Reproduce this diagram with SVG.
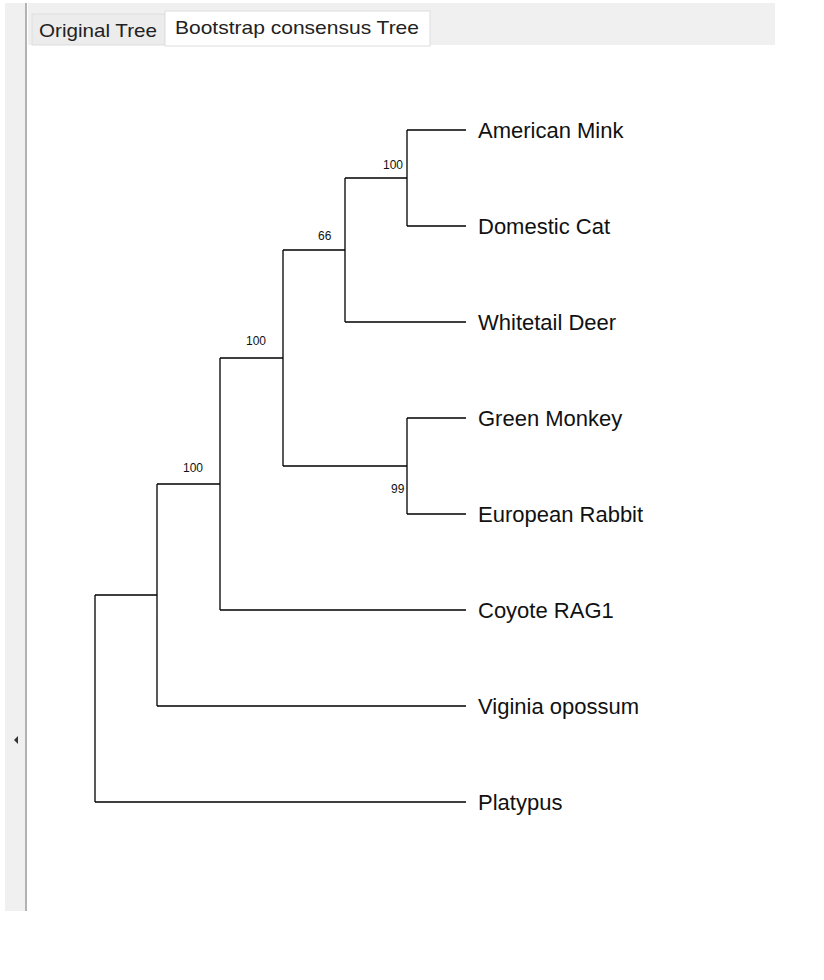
<svg xmlns="http://www.w3.org/2000/svg" width="824" height="980" viewBox="0 0 824 980">
<style>
.e{stroke:#000;stroke-width:1.3;fill:none}
.l{font-family:"Liberation Sans",Arial,sans-serif;font-size:22px;fill:#111}
.b{font-family:"Liberation Sans",Arial,sans-serif;font-size:12px;fill:#111}
.t{font-family:"Liberation Sans",Arial,sans-serif;font-size:19px;fill:#222}
</style>
<rect width="824" height="980" fill="#fff"/>
<rect x="5" y="3" width="20" height="908" fill="#f0f0f0"/>
<line x1="26" y1="3" x2="26" y2="911" stroke="#999" stroke-width="1.5"/>
<path d="M14 740 L18 736 L18 744 Z" fill="#333"/>
<rect x="28" y="3" width="747" height="42" fill="#f0f0f0"/>
<rect x="32" y="14" width="133" height="31" fill="#ececec" stroke="#ddd"/>
<rect x="165" y="11" width="265" height="35" fill="#fff" stroke="#ddd"/>
<text class="t" x="39" y="37" textLength="118" lengthAdjust="spacingAndGlyphs">Original Tree</text>
<text class="t" x="175" y="34" textLength="244" lengthAdjust="spacingAndGlyphs">Bootstrap consensus Tree</text>
<g id="connectors">
<path class="e" d="M407 130H466M407 226H466M407 130V226M345 178H407M345 322H466M345 178V322M407 418H466M407 514H466M407 418V514M283 250H345M283 466H407M283 250V466M220 358H283M220 610H466M220 358V610M157 484H220M157 706H466M157 484V706M95 595H157M95 802H466M95 595V802"/>
</g>
<g id="n-mink"><text class="l" x="478" y="138">American Mink</text></g>
<g id="n-cat"><text class="l" x="478" y="234">Domestic Cat</text></g>
<g id="n-deer"><text class="l" x="478" y="330">Whitetail Deer</text></g>
<g id="n-monkey"><text class="l" x="478" y="426">Green Monkey</text></g>
<g id="n-rabbit"><text class="l" x="478" y="522">European Rabbit</text></g>
<g id="n-coyote"><text class="l" x="478" y="618">Coyote RAG1</text></g>
<g id="n-opossum"><text class="l" x="478" y="714">Viginia opossum</text></g>
<g id="n-platypus"><text class="l" x="478" y="810">Platypus</text></g>
<g id="bootstrap">
<text class="b" x="383" y="169">100</text>
<text class="b" x="318" y="240">66</text>
<text class="b" x="246" y="345">100</text>
<text class="b" x="391" y="493">99</text>
<text class="b" x="183" y="472">100</text>
</g>
</svg>
